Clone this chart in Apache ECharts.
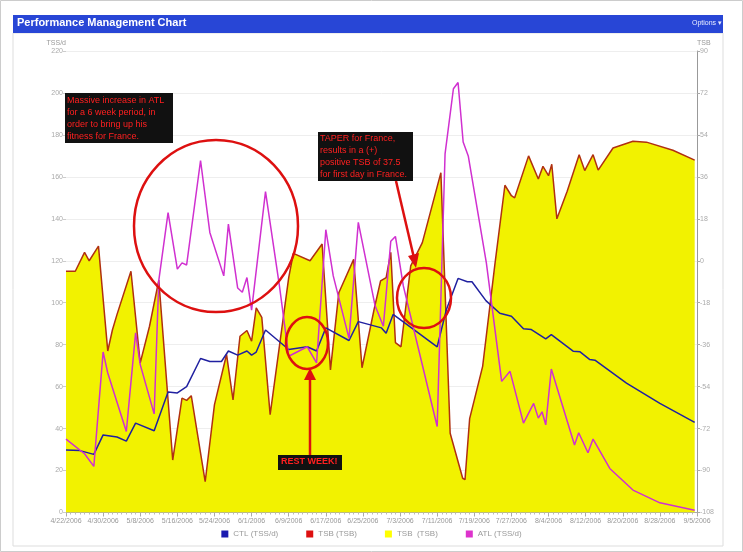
<!DOCTYPE html>
<html><head><meta charset="utf-8">
<script src="https://cdn.jsdelivr.net/npm/echarts@6/dist/echarts.min.js"></script>
<style>html,body{margin:0;padding:0;background:#fff}#c{width:743px;height:552px}</style>
</head><body><div id="c"></div>
<script>
// day offsets from 4/22/2006, values in chart units
const ctlDays = [0,3,6,8,11,13,15,19,22,24,26,29,31,33.5,35,37,39,40,41,43,48,52,54,56,61,63,68,69,70.5,73,80,82,84.5,86.5,87.5,90.5,93.5,96,98.6,100.3,103.4,104.6,109.3,110.8,112.9,114,120.8,128,135.5];
const ctlVals = [29.8,29.5,27.7,37,36,34,42.6,39,57.4,57,60,73.4,72,72,77,75,77,75,76.5,87,77.7,79,77,88,82,91,88,85.5,94.4,90.4,79,96.8,111.6,110,110,101,95,93.6,87.6,87.2,82.8,84.8,76.9,76.6,72.9,72.6,61.7,52,43];
const atlDays = [0,4,6,8,9,13,15,16,19,20,22,24,25,26,29,31,34,35,37,38,39,40,43,46,48,52,54,56,57.6,61,63,66.6,68.4,70,71,72.7,80,81.7,83.5,84.5,85.6,86.7,90.6,93.9,95.7,98.6,100.8,101.8,102.6,103.4,104.6,109.6,110.5,112.5,113.6,117.2,122.2,128,135.5];
const atlVals = [35,28,22,76.5,66.5,38.6,85.6,70.5,47,110.7,143,116,119,118,167.8,133.5,112.8,137.5,107,105,112,96.5,153,108,74.5,79,71.3,134.8,112.8,83,138.3,98.7,88.8,129.3,131.6,108,41,171,202,205,176.6,170,119,62.5,67.3,42.6,52,45,48,41.8,68.4,32.2,38,28.5,35,21,10.7,4.6,1.1];
const tsbDays = [0,2,4,5,7,9,10,11,14,16,18,20,23,25,26,27,30,32,34.6,36,37.5,39,40,41,42.2,44,48,49,52.6,55.2,57,58.8,62,63.8,66.4,67.8,69,70,71,72.2,74.3,76.8,80.8,82.8,85.5,86,87,89.8,92.4,94.6,96,96.7,99.7,101.8,102.8,104,104.7,105.8,108,110.6,111.8,113.6,114.7,117.9,122.2,125.1,130.8,135.5];
const tsbVals = [-4.5,-4.5,3.6,0,6.3,-38.7,-29.7,-23,-4.5,-43.8,-28.1,-8.3,-85.5,-58.9,-59.9,-57.9,-94.8,-61.7,-40.2,-59.7,-32.4,-29.9,-34.5,-20.2,-24.3,-66,-7.2,3.2,0,7.2,-46.8,-13.7,0.6,-45.9,-20.9,-8.6,-7.2,3.6,-35.1,-36.9,-2.2,7.8,37.8,-74,-93.3,-93.9,-67.7,-45.3,-2.2,32.4,27.9,27,45,35.1,40.5,36.5,41.4,18,29.7,45.5,38.7,45.5,38.9,48.4,51.3,50.9,47.4,43.2];
const xTickLabels = ['4/22/2006','4/30/2006','5/8/2006','5/16/2006','5/24/2006','6/1/2006','6/9/2006','6/17/2006','6/25/2006','7/3/2006','7/11/2006','7/19/2006','7/27/2006','8/4/2006','8/12/2006','8/20/2006','8/28/2006','9/5/2006'];
const legendNames = ['CTL (TSS/d)','TSB (TSB)','TSB  (TSB)','ATL (TSS/d)'];

const pair=(d,v)=>d.map((x,i)=>[x,v[i]]);
const chart = echarts.init(document.getElementById('c'));
const txt = {fill:'#ff2020',font:'9px "Liberation Sans", Arial',lineHeight:12};
chart.setOption({
  animation:false,
  grid:{left:66,right:46,top:51,bottom:39.5},
  legend:{bottom:9,left:'center',itemWidth:7,itemHeight:7,itemGap:28,icon:'rect',
    textStyle:{fontSize:8,color:'#999'},data:legendNames},
  xAxis:{type:'value',min:0,max:136,interval:8,
    axisLine:{lineStyle:{color:'#aaa'}},axisTick:{lineStyle:{color:'#aaa'},length:4},
    splitLine:{show:false},
    axisLabel:{fontSize:7,color:'#999',margin:5,formatter:v=>xTickLabels[Math.round(v/8)]||''},
    minorTick:{show:true,splitNumber:8,length:2,lineStyle:{color:'#bbb'}}},
  yAxis:[
    {type:'value',min:0,max:220,interval:20,name:'TSS/d',nameGap:4,
     nameTextStyle:{fontSize:7,color:'#999',align:'right'},
     axisLine:{show:false},axisTick:{show:true,length:3,lineStyle:{color:'#ccc'}},
     axisLabel:{fontSize:7,color:'#aaa',margin:3},splitLine:{lineStyle:{color:'#eee'}}},
    {type:'value',min:-108,max:90,interval:18,name:'TSB',nameGap:4,
     nameTextStyle:{fontSize:7,color:'#999',align:'left'},
     axisLine:{show:true,lineStyle:{color:'#999'}},axisTick:{show:true,length:3,lineStyle:{color:'#aaa'}},
     axisLabel:{fontSize:7,color:'#aaa',margin:3},splitLine:{show:false}}
  ],
  series:[
    {name:legendNames[2],type:'line',yAxisIndex:1,data:pair(tsbDays,tsbVals),symbol:'none',z:1,
     itemStyle:{color:'#ffff00'},lineStyle:{width:0},
     areaStyle:{origin:'start',color:'#f2f200',opacity:1,
       decal:{symbol:'rect',symbolSize:1,dashArrayX:[[1,2.6]],dashArrayY:[1,0],color:'rgba(255,255,170,0.9)',rotation:0}}},
    {name:legendNames[1],type:'line',yAxisIndex:1,data:pair(tsbDays,tsbVals),symbol:'none',z:3,
     itemStyle:{color:'#dd1010'},lineStyle:{color:'#b03010',width:1.5}},
    {name:legendNames[0],type:'line',yAxisIndex:0,data:pair(ctlDays,ctlVals),symbol:'none',z:4,
     itemStyle:{color:'#1a1ab0'},lineStyle:{color:'#2020a0',width:1.5}},
    {name:legendNames[3],type:'line',yAxisIndex:0,data:pair(atlDays,atlVals),symbol:'none',z:4,
     itemStyle:{color:'#dd33cc'},lineStyle:{color:'#d030d0',width:1.5}}
  ],
  graphic:[
    {type:'rect',shape:{x:0.5,y:0.5,width:742,height:551},style:{fill:'none',stroke:'#ccc'},z:0},
    {type:'rect',shape:{x:13,y:33,width:710,height:513},style:{fill:'none',stroke:'#ddd'},z:0},
    {type:'rect',shape:{x:13,y:15,width:710,height:18},style:{fill:'#2846d6'},z:10},
    {type:'text',x:17,y:17,style:{text:'Performance Management Chart',fill:'#fff',font:'bold 11px "Liberation Sans", Arial'},z:11},
    {type:'text',x:692,y:20,style:{text:'Options ▾',fill:'#e8ecff',font:'7px "Liberation Sans", Arial'},z:11},
    {type:'rect',shape:{x:65,y:93,width:108,height:50},style:{fill:'#111'},z:20},
    {type:'text',x:67,y:95,style:Object.assign({text:'Massive increase in ATL\nfor a 6 week period, in\norder to bring up his\nfitness for France.'},txt),z:21},
    {type:'rect',shape:{x:318,y:132,width:95,height:49},style:{fill:'#111'},z:20},
    {type:'text',x:320,y:133,style:Object.assign({text:'TAPER for France,\nresults in a (+)\npositive TSB of 37.5\nfor first day in France.'},txt),z:21},
    {type:'rect',shape:{x:278,y:455,width:64,height:15},style:{fill:'#111'},z:20},
    {type:'text',x:281,y:457,style:{text:'REST WEEK!',fill:'#ff2020',font:'bold 9px "Liberation Sans", Arial'},z:21},
    {type:'ellipse',shape:{cx:216,cy:226,rx:82,ry:86},style:{fill:'none',stroke:'#dd1010',lineWidth:2.5},z:20},
    {type:'ellipse',shape:{cx:307,cy:343,rx:21,ry:26},style:{fill:'none',stroke:'#dd1010',lineWidth:2.5},z:20},
    {type:'ellipse',shape:{cx:424,cy:298,rx:27,ry:30},style:{fill:'none',stroke:'#dd1010',lineWidth:2.5},z:20},
    {type:'line',shape:{x1:310,y1:455,x2:310,y2:378},style:{stroke:'#dd1010',lineWidth:2.5},z:20},
    {type:'polygon',shape:{points:[[304,380],[316,380],[310,368]]},style:{fill:'#dd1010'},z:20},
    {type:'line',shape:{x1:396,y1:181,x2:414,y2:258},style:{stroke:'#dd1010',lineWidth:2.5},z:20},
    {type:'polygon',shape:{points:[[408,256],[419,253],[416,268]]},style:{fill:'#dd1010'},z:20}
  ]
});
</script></body></html>
